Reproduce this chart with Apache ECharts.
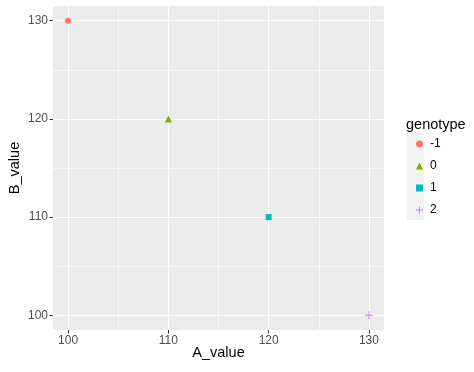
<!DOCTYPE html>
<html>
<head>
<meta charset="utf-8">
<script src="https://cdn.jsdelivr.net/npm/echarts@6/dist/echarts.min.js"></script>
<style>html,body{margin:0;padding:0;background:#fff}#c{width:474px;height:372px}</style>
</head>
<body>
<div id="c"></div>
<script>
const genotypes = ['-1', '0', '1', '2'];
const aValues = [100, 110, 120, 130];
const bValues = [130, 120, 110, 100];
const colors = ['#F8766D', '#7CAE00', '#00BFC4', '#C77CFF'];
const xTicks = [100, 110, 120, 130];
const yTicks = [100, 110, 120, 130];
const xMinor = [105, 115, 125];
const yMinor = [105, 115, 125];

const plusPath = 'path://M4.4,0h1.2v4.4h4.4v1.2h-4.4v4.4h-1.2v-4.4h-4.4v-1.2h4.4z';
const symbols = ['circle', 'triangle', 'rect', plusPath];
const sizes = [6, 7, 6, 8];

const font = 'Liberation Sans, Arial, sans-serif';
const chart = echarts.init(document.getElementById('c'), null, {renderer: 'canvas'});

const gridLines = [];
xTicks.forEach(v => gridLines.push({xAxis: v, lineStyle: {width: 1.2}}));
yTicks.forEach(v => gridLines.push({yAxis: v, lineStyle: {width: 1.2}}));
xMinor.forEach(v => gridLines.push({xAxis: v, lineStyle: {width: 0.6}}));
yMinor.forEach(v => gridLines.push({yAxis: v, lineStyle: {width: 0.6}}));

const series = [{
  type: 'scatter', data: [], z: 1, silent: true,
  markLine: {
    silent: true, symbol: 'none', animation: false, z: 1,
    label: {show: false},
    lineStyle: {color: '#FFFFFF', type: 'solid'},
    emphasis: {disabled: true},
    data: gridLines
  }
}];
genotypes.forEach((g, i) => {
  series.push({
    name: g, type: 'scatter', z: 10,
    symbol: symbols[i], symbolSize: sizes[i],
    itemStyle: {color: colors[i], opacity: 1},
    data: [[aValues[i], bValues[i]]]
  });
});

chart.setOption({
  animation: false,
  backgroundColor: '#FFFFFF',
  grid: {left: 53, top: 6, right: 90, bottom: 42, show: true, backgroundColor: '#EBEBEB', borderWidth: 0, outerBoundsMode: 'none', containLabel: false},
  xAxis: {
    type: 'value', min: 98.5, max: 131.5,
    name: 'A_value', nameLocation: 'middle', nameGap: 15, nameMoveOverlap: false,
    nameTextStyle: {color: '#000000', fontSize: 14.5, fontFamily: font},
    axisLine: {show: false},
    axisTick: {show: true, customValues: xTicks, length: 3.5, lineStyle: {color: '#333333', width: 1}},
    axisLabel: {customValues: xTicks, color: '#4D4D4D', fontSize: 12, fontFamily: font, margin: 5},
    splitLine: {show: false}
  },
  yAxis: {
    type: 'value', min: 98.5, max: 131.5,
    name: 'B_value', nameLocation: 'middle', nameGap: 31, nameMoveOverlap: false,
    nameTextStyle: {color: '#000000', fontSize: 14.5, fontFamily: font},
    axisLine: {show: false},
    axisTick: {show: true, customValues: yTicks, length: 3.5, lineStyle: {color: '#333333', width: 1}},
    axisLabel: {customValues: yTicks, color: '#4D4D4D', fontSize: 12, fontFamily: font, margin: 5},
    splitLine: {show: false}
  },
  legend: {
    orient: 'vertical', left: 411, top: 133,
    itemWidth: 7, itemHeight: 7, itemGap: 10,
    data: genotypes.map((g, i) => ({name: g, icon: symbols[i]})),
    textStyle: {color: '#000000', fontSize: 12, fontFamily: font, padding: [0, 0, 0, 2]},
    selectedMode: false
  },
  graphic: [
    {type: 'rect', left: 407, top: 133, shape: {width: 17, height: 87}, style: {fill: '#F2F2F2'}, z: -1, silent: true},
    {type: 'text', left: 406, top: 117, style: {text: 'genotype', fill: '#000000', fontSize: 14.5, fontFamily: font}}
  ],
  series: series
});
</script>
</body>
</html>
